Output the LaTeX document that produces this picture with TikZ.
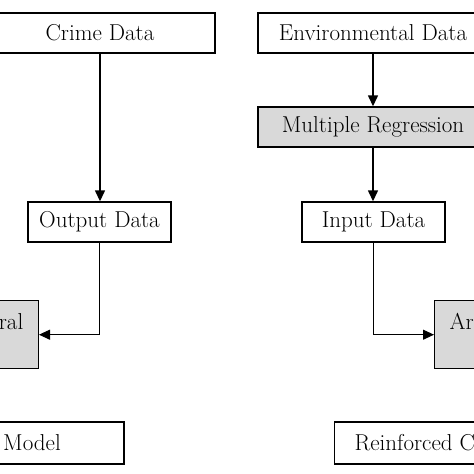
\documentclass[tikz,border=0pt]{standalone}
\usetikzlibrary{arrows.meta}
\begin{document}
\begin{tikzpicture}[x=1pt,y=-1pt,
  font=\fontsize{23}{27}\selectfont,
  block/.style={draw,line width=1.4pt,inner xsep=8pt,minimum height=40pt},
  grayblock/.style={block,fill=black!15,inner xsep=15pt,minimum height=68pt,align=center},
  flow/.style={line width=1.4pt,-{Triangle[length=11pt,width=10pt]}},
  thinflow/.style={flow,line width=1pt}]
\path[use as bounding box,clip] (0,0) rectangle (474,474);

% Left branch
\node[block,minimum width=230pt] (crime) at (100,33) {Crime Data};
\node[block,minimum width=143pt] (output) at (99.5,222) {Output Data};
\node[grayblock,anchor=north east] (annL) at (39,300) {Artificial Neural\\Network};
\node[block,minimum width=184pt,minimum height=42pt] (model) at (32,443) {Model};
\draw[flow] (crime.south) -- (crime.south |- output.north);
\draw[thinflow] (output.south) |- (annL.east);

% Right branch
\node[block,minimum width=230pt] (env) at (373,33) {Environmental Data};
\node[block,fill=black!15,minimum width=230pt] (regr) at (373,127) {Multiple Regression};
\node[block,minimum width=143pt] (input) at (373.5,222) {Input Data};
\node[grayblock,anchor=north west] (annR) at (434,300) {Artificial Neural\\Network};
\node[block,anchor=west,inner xsep=20pt,minimum height=42pt] (reinf) at (334,443) {Reinforced Crime Model};
\draw[flow] (env) -- (regr);
\draw[flow] (regr) -- (regr |- input.north);
\draw[thinflow] (input.south) |- (annR.west);
\end{tikzpicture}
\end{document}
